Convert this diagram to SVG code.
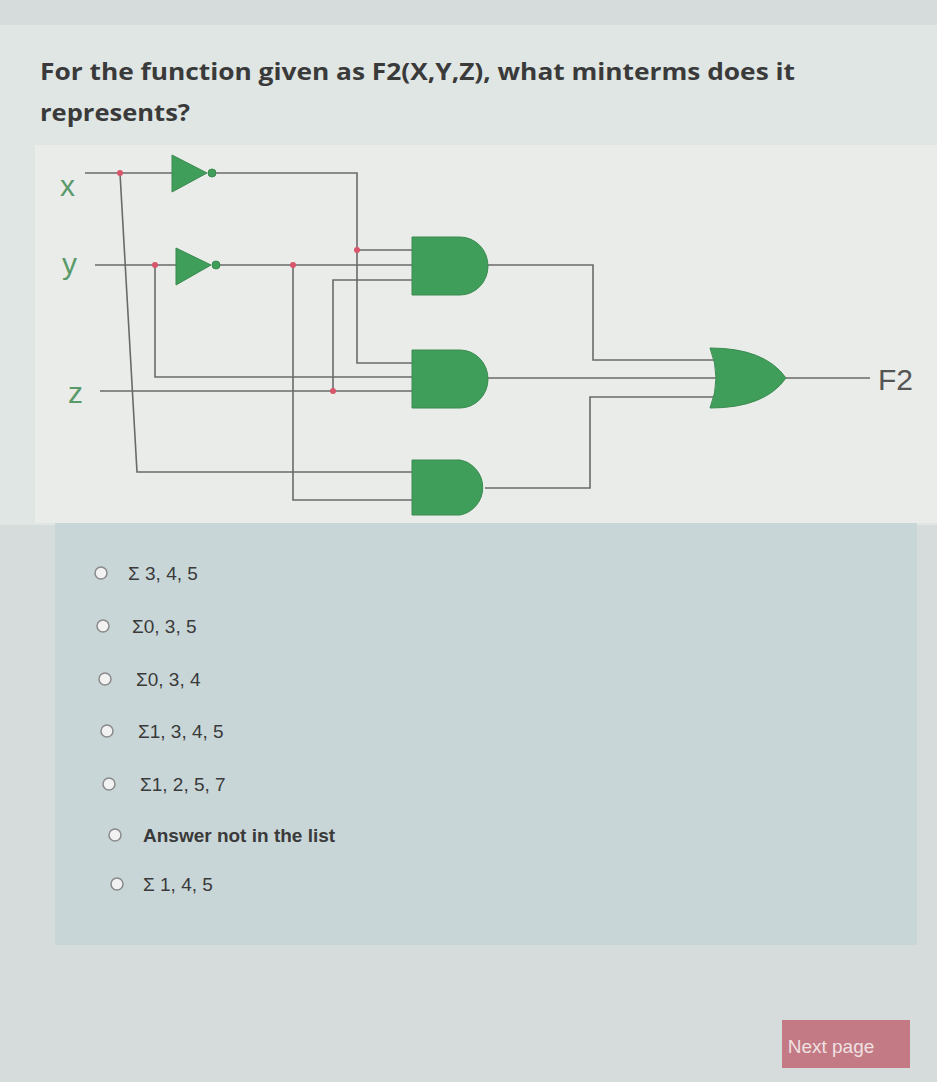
<svg xmlns="http://www.w3.org/2000/svg" width="937" height="1082" viewBox="0 0 937 1082">
<style>
.w{stroke:#6a6a6a;stroke-width:1.6;fill:none}
.g{fill:#3f9e5a;stroke:#3a8a50;stroke-width:1}
.d{fill:#d9566a}
.lab{font-family:"Liberation Sans",Arial,sans-serif;fill:#5a9a6a;font-size:30px}
.q{font-family:"Open Sans","Liberation Sans",sans-serif;font-weight:bold;font-size:24px;fill:#3a3a3a}
.o{font-family:"Liberation Sans",Arial,sans-serif;font-size:19px;fill:#3a3a3a}
.r{fill:#f2f2f2;stroke:#8a8a8a;stroke-width:1.5}
</style>
<rect width="937" height="1082" fill="#d6dcdb"/>
<rect x="0" y="25" width="937" height="500" fill="#dfe6e4"/>
<text class="q" x="40" y="80" textLength="755" lengthAdjust="spacingAndGlyphs">For the function given as F2(X,Y,Z), what minterms does it</text>
<text class="q" x="40" y="121" textLength="150" lengthAdjust="spacingAndGlyphs">represents?</text>
<rect x="35" y="145" width="902" height="378" fill="#e9ece8"/>
<rect x="55" y="523" width="862" height="422" fill="#c9d6d8"/>
<g id="labels">
<text class="lab" x="60" y="196">x</text>
<text class="lab" x="62" y="274">y</text>
<text class="lab" x="68" y="403">z</text>
<text class="lab" x="878" y="390" style="fill:#555">F2</text>
</g>
<g id="wires">
<path class="w" d="M85 173H172M212 173H357V363H412"/>
<path class="w" d="M120 173L137 472H412"/>
<path class="w" d="M95 265H176M218 265H412"/>
<path class="w" d="M155 265V377H412"/>
<path class="w" d="M293 265V500H412"/>
<path class="w" d="M357 250H412"/>
<path class="w" d="M100 391H412"/>
<path class="w" d="M333 391V280H412"/>
<path class="w" d="M487 265H593V360H715"/>
<path class="w" d="M487 378H720"/>
<path class="w" d="M485 488H590V397H715"/>
<path class="w" d="M785 378H870"/>
</g>
<g id="dots">
<circle class="d" cx="120" cy="173" r="3"/>
<circle class="d" cx="155" cy="265" r="3"/>
<circle class="d" cx="293" cy="265" r="3"/>
<circle class="d" cx="357" cy="250" r="3"/>
<circle class="d" cx="333" cy="391" r="3"/>
</g>
<g id="notx"><path class="g" d="M172 155L207 173L172 192Z"/><circle class="g" cx="212" cy="173" r="4"/></g>
<g id="noty"><path class="g" d="M176 248L211 265L176 285Z"/><circle class="g" cx="216" cy="265" r="4"/></g>
<g id="and1"><path class="g" d="M412 237H460A28 29 0 0 1 460 295H412Z"/></g>
<g id="and2"><path class="g" d="M412 350H460A28 29 0 0 1 460 408H412Z"/></g>
<g id="and3"><path class="g" d="M412 460H460A28 28 0 0 1 460 515H412Z"/></g>
<g id="or"><path class="g" d="M710 348Q765 348 786 378Q765 408 710 408Q722 378 710 348Z"/></g>
<g id="options">
<circle class="r" cx="101" cy="573" r="6"/><text class="o" x="128" y="580">Σ 3, 4, 5</text>
<circle class="r" cx="103" cy="626" r="6"/><text class="o" x="132" y="633">Σ0, 3,  5</text>
<circle class="r" cx="105" cy="679" r="6"/><text class="o" x="136" y="686">Σ0, 3, 4</text>
<circle class="r" cx="107" cy="731" r="6"/><text class="o" x="138" y="738">Σ1, 3, 4, 5</text>
<circle class="r" cx="109" cy="784" r="6"/><text class="o" x="140" y="791">Σ1, 2, 5, 7</text>
<circle class="r" cx="115" cy="835" r="6"/><text class="o" x="143" y="842" font-weight="bold">Answer not in the list</text>
<circle class="r" cx="117" cy="884" r="6"/><text class="o" x="143" y="891">Σ 1,  4, 5</text>
</g>
<g id="next"><rect x="782" y="1020" width="128" height="48" fill="#c37a84"/>
<text x="831" y="1053" text-anchor="middle" font-family="Liberation Sans,Arial,sans-serif" font-size="19" fill="#f0e0e2">Next page</text></g>
</svg>
